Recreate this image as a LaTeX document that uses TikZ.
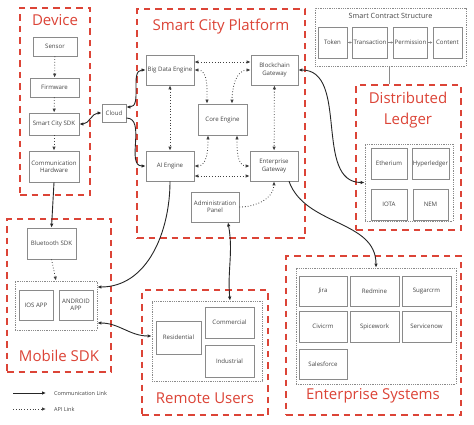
\documentclass[tikz,border=0pt]{standalone}
\usepackage{fontspec}
\setmainfont{Open Sans}
\usetikzlibrary{arrows.meta,calc}
\definecolor{redd}{HTML}{DC4437}
\definecolor{boxgray}{HTML}{8A8A8A}
\definecolor{txt}{HTML}{444444}
\begin{document}
\begin{tikzpicture}[x=1pt,y=-1pt,
  bx/.style={draw=boxgray,line width=0.7pt,fill=white,align=center,text=txt,font=\fontsize{6.1}{7.4}\selectfont,inner sep=1pt},
  grp/.style={draw=boxgray,line width=0.8pt,densely dotted,inner sep=0pt},
  area/.style={draw=redd,line width=1.8pt,dash pattern=on 6.5pt off 5pt,inner sep=0pt},
  ttl/.style={text=redd,font=\fontsize{15}{17}\selectfont,inner sep=0pt,anchor=center},
  sol/.style={draw=black!85,line width=0.9pt},
  api/.style={draw=black!75,line width=0.8pt,dotted},
  tip/.style={-{Latex[length=4pt,width=3.5pt]}},
  tips/.style={{Latex[length=4pt,width=3.5pt]}-{Latex[length=4pt,width=3.5pt]}},
]
\useasboundingbox (0,0) rectangle (474,425);
\fill[white] (0,0) rectangle (474,425);

% ---- red dashed areas
\node[area,minimum width=70pt,minimum height=187pt] (devarea) at (55,101.5) {};
\node[area,minimum width=168pt,minimum height=229pt] (scparea) at (221,123.5) {};
\node[area,minimum width=105pt,minimum height=145pt] (dlarea) at (408.5,157.5) {};
\node[area,minimum width=104pt,minimum height=153pt] (mobarea) at (59,295.5) {};
\node[area,minimum width=126pt,minimum height=125pt] (ruarea) at (205,352.5) {};
\node[area,minimum width=175pt,minimum height=159pt] (esarea) at (373.5,335.5) {};

% ---- titles
\node[ttl] (tdev) at (55,20) {Device};
\node[ttl] (tscp) at (221,27) {Smart City Platform};
\node[ttl] (tdl1) at (408,98) {Distributed};
\node[ttl] (tdl2) at (408,121) {Ledger};
\node[ttl] (tmob) at (59,356) {Mobile SDK};
\node[ttl] (tru) at (205,398) {Remote Users};
\node[ttl] (tes) at (373,396) {Enterprise Systems};

% ---- device
\node[bx,minimum width=44pt,minimum height=19pt] (sensor) at (55,46.5) {Sensor};
\node[bx,minimum width=49pt,minimum height=19pt] (firmware) at (54.5,87.5) {Firmware};
\node[bx,minimum width=50pt,minimum height=22pt] (sdk) at (54,124) {Smart City SDK};
\node[bx,minimum width=50pt,minimum height=31pt] (commhw) at (54,166.5) {Communication\\Hardware};
\node[bx,minimum width=24pt,minimum height=18pt] (cloud) at (114,113) {Cloud};

% ---- platform
\node[bx,minimum width=48pt,minimum height=30pt] (bigdata) at (170,70) {Big Data Engine};
\node[bx,minimum width=47pt,minimum height=30pt] (bcgw) at (274.5,70) {Blockchain\\Gateway};
\node[bx,minimum width=49pt,minimum height=31pt] (core) at (222.5,119.5) {Core Engine};
\node[bx,minimum width=48pt,minimum height=30pt] (ai) at (170,166) {AI Engine};
\node[bx,minimum width=48pt,minimum height=30pt] (entgw) at (274,166) {Enterprise\\Gateway};
\node[bx,minimum width=48pt,minimum height=30pt] (admin) at (215,207) {Administration\\Panel};

% ---- smart contract structure
\node[grp,minimum width=151pt,minimum height=58pt] (scs) at (390.5,37) {};
\node[text=txt,font=\fontsize{7.2}{8}\selectfont,inner sep=0pt] (scstitle) at (390.5,16) {Smart Contract Structure};
\node[bx,minimum width=29pt,minimum height=31pt] (token) at (332.5,42.5) {Token};
\node[bx,minimum width=34pt,minimum height=31pt] (trans) at (370,42.5) {Transaction};
\node[bx,minimum width=33pt,minimum height=31pt] (perm) at (410.5,42.5) {Permission};
\node[bx,minimum width=29pt,minimum height=31pt] (content) at (447.5,42.5) {Content};

% ---- distributed ledger
\node[grp,minimum width=88pt,minimum height=77pt] (dlgrp) at (409,182.5) {};
\node[bx,minimum width=36pt,minimum height=31pt] (eth) at (389,163.5) {Etherium};
\node[bx,minimum width=35pt,minimum height=31pt] (hyp) at (430.5,163.5) {Hyperledger};
\node[bx,minimum width=36pt,minimum height=31pt] (iota) at (389,204.5) {IOTA};
\node[bx,minimum width=35pt,minimum height=31pt] (nem) at (430.5,204.5) {NEM};

% ---- mobile sdk
\node[bx,minimum width=49pt,minimum height=31pt] (bt) at (51.5,243.5) {Bluetooth SDK};
\node[grp,minimum width=82pt,minimum height=49pt] (appgrp) at (56,305.5) {};
\node[bx,minimum width=34pt,minimum height=30pt] (ios) at (36,305) {IOS APP};
\node[bx,minimum width=34pt,minimum height=30pt] (android) at (76,305) {ANDROID\\APP};

% ---- remote users
\node[grp,minimum width=110pt,minimum height=80pt] (rugrp) at (207,341) {};
\node[bx,minimum width=45pt,minimum height=33pt] (resi) at (178.5,337.5) {Residential};
\node[bx,minimum width=49pt,minimum height=31pt] (comm) at (229.5,322.5) {Commercial};
\node[bx,minimum width=49pt,minimum height=32pt] (indu) at (229.5,361) {Industrial};

% ---- enterprise systems
\node[grp,minimum width=160pt,minimum height=116pt] (esgrp) at (376,326) {};
\node[bx,minimum width=48pt,minimum height=30pt] (jira) at (323,291) {Jira};
\node[bx,minimum width=49pt,minimum height=30pt] (redmine) at (374.5,291) {Redmine};
\node[bx,minimum width=49pt,minimum height=30pt] (sugar) at (426.5,291) {Sugarcrm};
\node[bx,minimum width=48pt,minimum height=31pt] (civi) at (323,326.5) {Civicrm};
\node[bx,minimum width=49pt,minimum height=31pt] (spice) at (374.5,326.5) {Spicework};
\node[bx,minimum width=49pt,minimum height=31pt] (snow) at (426.5,326.5) {Servicenow};
\node[bx,minimum width=48pt,minimum height=30pt] (sales) at (323,364) {Salesforce};

% ---- API (dotted) links
\draw[api,tip] (sensor) -- (firmware);
\draw[api,tip] (firmware) -- (sdk);
\draw[api,tip] (sdk) -- (commhw);
\draw[api,tips] ([yshift=8pt]bigdata.east) -- ([yshift=8pt]bcgw.west);
\draw[api,tips] (bigdata.east) to[out=0,in=90] ([xshift=-15.5pt]core.north);
\draw[api,tips] (bcgw.west) to[out=180,in=90] ([xshift=9.5pt]core.north);
\draw[api,tips] (bigdata) -- (ai);
\draw[api,tips] (bcgw) -- (entgw);
\draw[api,tips] ([xshift=-14.5pt]core.south) to[out=-90,in=0] (ai.east);
\draw[api,tips] ([xshift=14.5pt]core.south) to[out=-90,in=180] (entgw.west);
\draw[api,tips] ([yshift=-10pt]ai.east) -- ([yshift=-10pt]entgw.west);
\draw[api,tip] (admin.east) to[out=0,in=-90] (entgw.south);
\draw[api,tip] (bt.south) -- (appgrp.north);

% ---- communication (solid) links
\draw[sol,tips] (sdk.east) to[out=0,in=180] (cloud.west);
\draw[sol,tips] ([yshift=6pt]cloud.east) to[out=0,in=180] (bigdata.west);
\draw[sol,tip] ([yshift=-5pt]cloud.east) to[out=0,in=180] (ai.west);
\draw[sol,tip] (ai.south) to[out=-90,in=0] ([yshift=18.5pt]appgrp.east);
\draw[sol,tips] ([xshift=13pt]admin.south) to[out=-80,in=95] ([xshift=23pt]rugrp.north);
\draw[sol,tip] ([xshift=15pt]entgw.south) to[out=-70,in=90] (esgrp.north);
\draw[sol,tips] (bcgw.east) to[out=0,in=180] (dlgrp.west);
\draw[sol,tip] (commhw.south) -- (bt.north);
\draw[sol,tips] ([yshift=-17.5pt]appgrp.east) to[out=0,in=180] ([yshift=5pt]rugrp.west);

% ---- smart contract chain
\draw[draw=boxgray,line width=0.6pt,-{Latex[length=2.5pt,width=2.5pt]}] (token) -- (trans);
\draw[draw=boxgray,line width=0.6pt,-{Latex[length=2.5pt,width=2.5pt]}] (trans) -- (perm);
\draw[draw=boxgray,line width=0.6pt,-{Latex[length=2.5pt,width=2.5pt]}] (perm) -- (content);
\draw[draw=boxgray,line width=0.8pt] ([xshift=-1.5pt]scs.south) -- ([xshift=-1.5pt]scs.south |- dlarea.north);

% ---- legend
\coordinate (l1a) at (13,393); \coordinate (l1b) at (46,393);
\coordinate (l2a) at (13,409); \coordinate (l2b) at (46,409);
\draw[sol,tip] (l1a) -- (l1b);
\draw[api,tip] (l2a) -- (l2b);
\node[anchor=west,text=txt,font=\fontsize{5.5}{6}\selectfont,inner sep=0pt] (lt1) at (54,393) {Communication Link};
\node[anchor=west,text=txt,font=\fontsize{5.5}{6}\selectfont,inner sep=0pt] (lt2) at (54,409) {API Link};
\end{tikzpicture}
\end{document}
